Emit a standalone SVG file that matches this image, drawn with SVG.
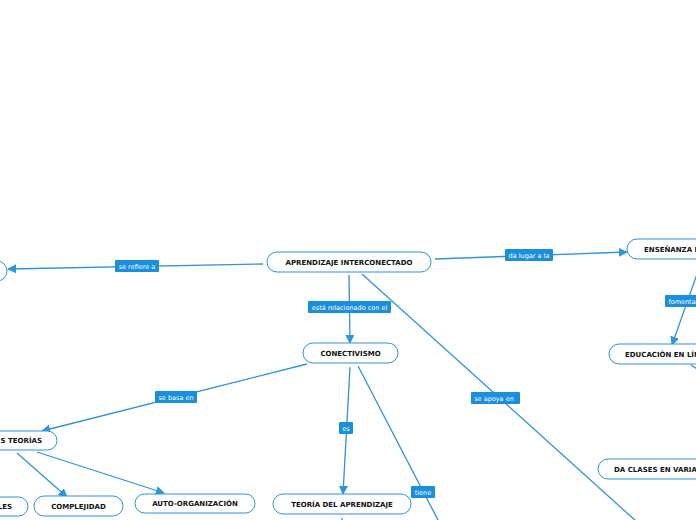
<svg xmlns="http://www.w3.org/2000/svg" width="696" height="520" viewBox="0 0 696 520">
<style>
.n rect{fill:#fff;stroke:#2b95dd;stroke-width:1}
.n text{font-family:Verdana,"DejaVu Sans",sans-serif;font-size:7px;font-weight:bold;fill:#111;text-anchor:middle}
.c line{stroke:#2b95dd;stroke-width:1.3}
.l rect{fill:#1a8fdd}
.l text{font-family:Verdana,"DejaVu Sans",sans-serif;font-size:6.5px;fill:#fff;text-anchor:middle}
</style>
<defs><marker id="a" viewBox="0 0 10 10" refX="9" refY="5" markerWidth="7" markerHeight="7" orient="auto"><path d="M0,0L10,5L0,10z" fill="#2b95dd"/></marker></defs>
<rect width="696" height="520" fill="#fff"/>
<g class="c">
<line x1="263" y1="264" x2="8" y2="269" marker-end="url(#a)"/>
<line x1="435" y1="259" x2="627" y2="252" marker-end="url(#a)"/>
<line x1="349" y1="275" x2="350" y2="343" marker-end="url(#a)"/>
<line x1="362" y1="274" x2="637" y2="522"/>
<line x1="697" y1="274" x2="672" y2="345" marker-end="url(#a)"/>
<line x1="691" y1="365" x2="697" y2="369"/>
<line x1="307" y1="364" x2="42" y2="431" marker-end="url(#a)"/>
<line x1="350" y1="367" x2="343" y2="494" marker-end="url(#a)"/>
<line x1="358" y1="366" x2="439" y2="522"/>
<line x1="17" y1="453" x2="67" y2="497" marker-end="url(#a)"/>
<line x1="37" y1="452" x2="164" y2="493" marker-end="url(#a)"/>
<line x1="342" y1="518" x2="342" y2="522"/>
</g>
<g class="l">
<rect x="115" y="260" width="44" height="12" rx="1"/><text x="137" y="268.5">se refiere a</text>
<rect x="505" y="249" width="48" height="12" rx="1"/><text x="529" y="257.5">da lugar a la</text>
<rect x="308" y="301" width="83" height="12" rx="1"/><text x="349.5" y="309.5">está relacionado con el</text>
<rect x="471" y="392" width="49" height="12" rx="1"/><text x="494" y="400.5">se apoya en</text>
<rect x="665" y="295" width="40" height="12" rx="1"/><text x="682" y="303.5">fomenta</text>
<rect x="155" y="391" width="42" height="12" rx="1"/><text x="176" y="399.5">se basa en</text>
<rect x="339" y="422" width="14" height="12" rx="1"/><text x="346" y="430.5">es</text>
<rect x="411" y="486" width="24" height="12" rx="1"/><text x="423" y="494.5">tiene</text>
</g>
<g id="n1" class="n"><rect x="267" y="252" width="164" height="20" rx="10"/><text x="349" y="264.5">APRENDIZAJE INTERCONECTADO</text></g>
<g id="n2" class="n"><rect x="-40" y="261" width="47" height="20" rx="10"/></g>
<g id="n3" class="n"><rect x="627" y="239" width="100" height="20" rx="10"/><text x="644" y="251.5" style="text-anchor:start">ENSEÑANZA EN LÍNEA</text></g>
<g id="n4" class="n"><rect x="303" y="343" width="95" height="20" rx="10"/><text x="350.5" y="355.5">CONECTIVISMO</text></g>
<g id="n5" class="n"><rect x="609" y="344" width="120" height="20" rx="10"/><text x="625" y="356.5" style="text-anchor:start">EDUCACIÓN EN LÍNEA</text></g>
<g id="n6" class="n"><rect x="598" y="459" width="140" height="20" rx="10"/><text x="614" y="471.5" style="text-anchor:start">DA CLASES EN VARIAS</text></g>
<g id="n7" class="n"><rect x="-40" y="431" width="97" height="19" rx="9.5"/><text x="42" y="443" style="text-anchor:end">S TEORÍAS</text></g>
<g id="n8" class="n"><rect x="-40" y="497" width="68" height="19" rx="9.5"/><text x="12" y="509" style="text-anchor:end">LES</text></g>
<g id="n9" class="n"><rect x="34" y="496" width="89" height="20" rx="10"/><text x="78.5" y="508.5">COMPLEJIDAD</text></g>
<g id="n10" class="n"><rect x="135" y="494" width="120" height="19" rx="9.5"/><text x="195" y="506">AUTO-ORGANIZACIÓN</text></g>
<g id="n11" class="n"><rect x="273" y="494" width="138" height="20" rx="10"/><text x="342" y="506.5">TEORÍA DEL APRENDIZAJE</text></g>
</svg>
